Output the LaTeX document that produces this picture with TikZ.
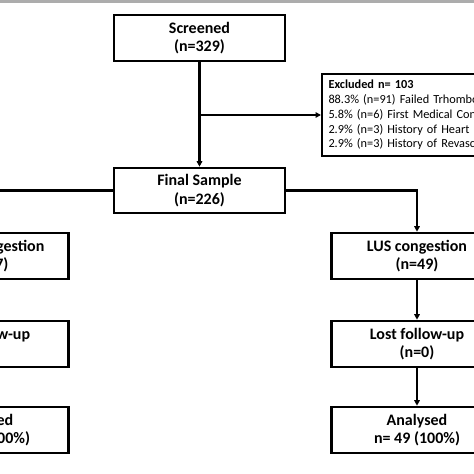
\documentclass[tikz,border=0pt]{standalone}
\usepackage{fontspec}
\setmainfont{Carlito}
\usetikzlibrary{arrows.meta}
\begin{document}
\begin{tikzpicture}[x=1pt,y=-1pt,
  flowbox/.style={draw=black,line width=2.6pt,rectangle,minimum width=171pt,minimum height=46pt,inner sep=0pt,align=center,font=\fontsize{16}{18.5}\selectfont\bfseries},
  excbox/.style={draw=black,line width=2pt,rectangle,anchor=west,text width=200pt,inner xsep=6.5pt,inner ysep=0pt,minimum height=82pt,align=left,font=\fontsize{12.3}{14.8}\selectfont},
  conn/.style={draw=black,line width=2.2pt},
  arr/.style={conn,-{Triangle[length=5.5pt,width=5.5pt]}}]
\useasboundingbox (0,0) rectangle (474,474);
\clip (0,0) rectangle (474,474);
\fill[white] (0,0) rectangle (474,474);
\fill[gray!65] (0,0) rectangle (474,2.5);
% nodes
\node[flowbox] (scr) at (199.5,38) {Screened\\(n=329)};
\node[flowbox,minimum height=45pt] (fin) at (199.5,190.5) {Final Sample\\(n=226)};
\node[excbox] (exc) at (321,115) {\textbf{Excluded n= 103}\\88.3\% (n=91) Failed Trhombolysis\\5.8\% (n=6) First Medical Contact\\2.9\% (n=3) History of Heart Failure\\2.9\% (n=3) History of Revascularization};
\node[flowbox] (rlus) at (417,256) {LUS congestion\\(n=49)};
\node[flowbox] (rlfu) at (417,344) {Lost follow-up\\(n=0)};
\node[flowbox] (ran) at (417,430) {Analysed\\n= 49 (100\%)};
\node[flowbox] (llus) at (-17,256) {No LUS congestion\\(n=177)};
\node[flowbox] (llfu) at (-17,344) {Lost follow-up\\(n=0)};
\node[flowbox] (lan) at (-17,430) {Analysed\\n= 177 (100\%)};
\coordinate (br) at (scr.south |- exc.west);
% connectors
\draw[arr] (scr.south) -- (fin.north);
\draw[arr] (br) -- (exc.west);
\draw[arr] (fin.east) -| (rlus.north);
\draw[arr] (fin.west) -| (llus.north);
\draw[arr] (rlus) -- (rlfu);
\draw[arr] (rlfu) -- (ran);
\draw[arr] (llus) -- (llfu);
\draw[arr] (llfu) -- (lan);
\end{tikzpicture}
\end{document}
